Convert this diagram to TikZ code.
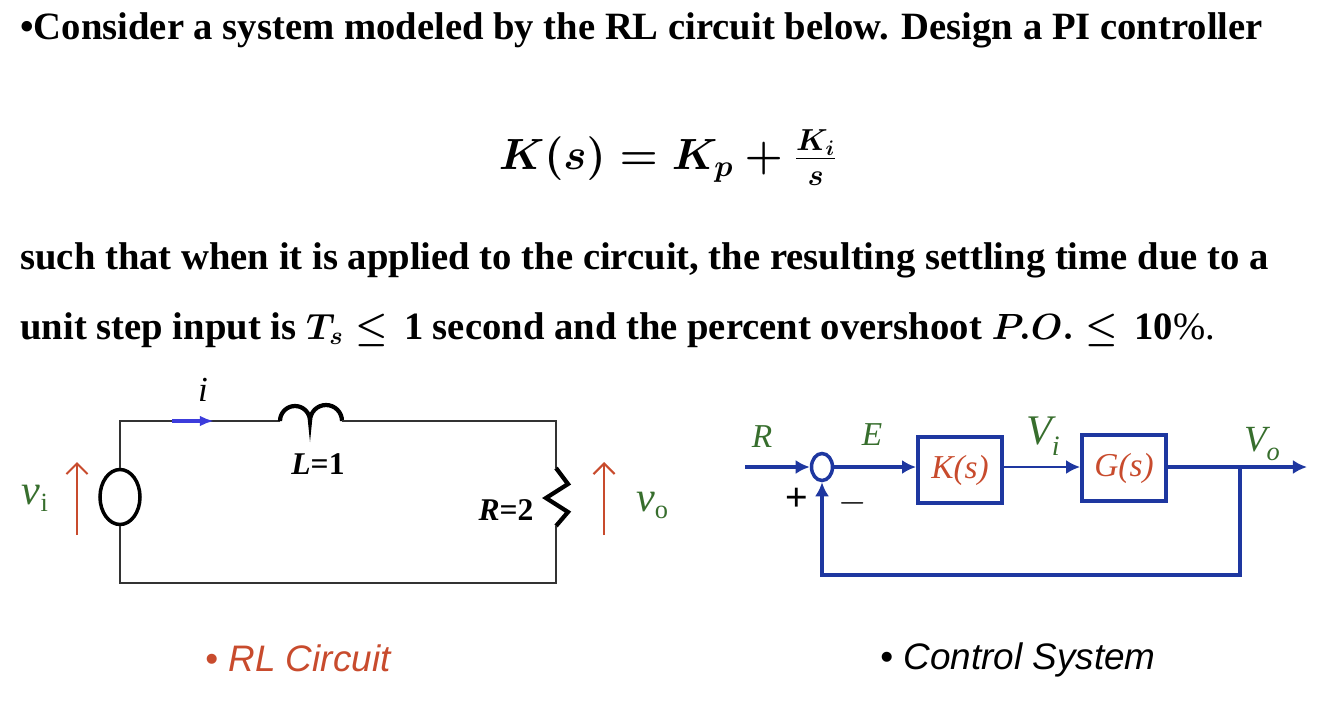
\documentclass[tikz,border=0pt]{standalone}
\usepackage{fontspec}
\usepackage{amsmath}
\setmainfont{Liberation Serif}
\newfontfamily\sansfont{Liberation Sans}
\usetikzlibrary{arrows.meta, positioning, shapes.geometric}
\definecolor{lblgreen}{RGB}{55,110,45}
\definecolor{lblorange}{RGB}{200,75,45}
\definecolor{dblue}{RGB}{30,55,160}
\definecolor{cblue}{RGB}{60,60,220}
\tikzset{
  txt/.style={anchor=west, inner sep=0pt, font=\fontsize{22}{26}\selectfont\bfseries},
  wire/.style={line width=1.4pt, black!80},
  blk/.style={draw=dblue, line width=2.2pt, minimum width=1.68cm, minimum height=1.32cm, inner sep=0pt, font=\fontsize{19}{22}\selectfont\itshape, text=lblorange},
  sig/.style={dblue, line width=2pt, -{Latex[length=8pt,width=8pt]}},
  glab/.style={text=lblgreen, font=\fontsize{19}{22}\selectfont\itshape, inner sep=0pt},
}
\begin{document}
\begin{tikzpicture}[x=0.02cm, y=-0.02cm]
    \useasboundingbox (0,0) rectangle (1337,717);
    % problem text
    \node[txt] (title) at (20,30) {•Consider a system modeled by the RL circuit below. Design a PI controller};
    \node[inner sep=0pt, font=\fontsize{25}{30}\selectfont] (pi) at (668,158) {$\boldsymbol{K(s)=K_p+\frac{K_i}{s}}$};
    \node[txt] (line1) at (20,260) {such that when it is applied to the circuit, the resulting settling time due to a};
    \node[txt] (line2) at (20,330) {unit step input is $\boldsymbol{T_s\le}\,\mathbf{1}$ second and the percent overshoot $\boldsymbol{P.O.\le}\,\mathbf{10}$\textmd{\%.}};

    % RL circuit
    \coordinate (tl) at (120,421);
    \coordinate (tr) at (556,421);
    \coordinate (bl) at (120,583);
    \coordinate (br) at (556,583);
    \node[draw, line width=2pt, ellipse, inner sep=0pt, minimum width=0.8cm, minimum height=1.1cm] (src) at (120,497) {};
    \coordinate (lin) at (280,421);
    \coordinate (lout) at (342,421);
    \coordinate (rtop) at (556,468);
    \coordinate (rbot) at (556,526);
    \draw[wire] (src.north) -- (tl) -- (lin);
    \draw[line width=2.4pt] (lin) arc[start angle=180, end angle=360, radius=15]
      arc[start angle=180, end angle=360, radius=16];
    \draw[wire] (lout) -- (tr) -- (rtop);
    \draw[line width=2.4pt] (rtop) -- (568,484) -- (546,498) -- (568,512) -- (rbot);
    \draw[wire] (rbot) -- (br) -- (bl) -- (src.south);
    \coordinate (ia) at (172,421);
    \coordinate (ib) at (214,421);
    \draw[cblue, line width=2pt, -{Latex[length=8pt]}] (ia) -- (ib);
    \node[font=\fontsize{20}{22}\selectfont\itshape] (ilab) at (203,390) {i};
    \node[font=\fontsize{18}{20}\selectfont\bfseries\itshape] (llab) at (318,464) {L\upshape=1};
    \node[font=\fontsize{18}{20}\selectfont\bfseries\itshape] (rlab) at (506,510) {R\upshape=2};
    \coordinate (via) at (77,535);
    \coordinate (vib) at (77,462);
    \coordinate (voa) at (604,535);
    \coordinate (vob) at (604,462);
    \draw[lblorange, line width=1.2pt, -{Straight Barb[length=6pt]}] (via) -- (vib);
    \draw[lblorange, line width=1.2pt, -{Straight Barb[length=6pt]}] (voa) -- (vob);
    \node[text=lblgreen, font=\fontsize{24}{26}\selectfont] (vilab) at (35,498) {\textit{v}\raisebox{-4pt}{\fontsize{15}{15}\selectfont i}};
    \node[text=lblgreen, font=\fontsize{24}{26}\selectfont] (volab) at (652,505) {\textit{v}\raisebox{-4pt}{\fontsize{15}{15}\selectfont o}};
    \node[text=lblorange, font=\fontsize{21}{24}\selectfont\sansfont\itshape] (rlcap) at (298,658) {\upshape•\ \itshape RL Circuit};

    % control loop
    \coordinate (rin) at (745,467);
    \node[draw=dblue, line width=2pt, ellipse, minimum width=0.42cm, minimum height=0.54cm, inner sep=0pt] (sum) at (822,467) {};
    \node[blk] (K) at (960,470) {K(s)};
    \node[blk] (G) at (1124,468) {G(s)};
    \coordinate (out) at (1307,467);
    \coordinate (tap) at (1240,467);
    \coordinate (fb1) at (1240,575);
    \coordinate (fb2) at (822,575);
    \draw[sig] (rin) -- (sum.west);
    \draw[sig] (sum.east) -- (sum.east -| K.west);
    \draw[sig, line width=1.4pt] (K.east |- 0,467) -- (G.west |- 0,467);
    \draw[sig] (G.east |- 0,467) -- (out);
    \draw[sig] (tap) -- (fb1) -- (fb2) -- (sum.south);
    \node[glab] (rlbl) at (762,437) {R};
    \node[glab] (elbl) at (872,435) {E};
    \node[glab, font=\fontsize{24}{26}\selectfont\itshape] (vilbl) at (1043,436) {V\raisebox{-6pt}{\fontsize{16}{16}\selectfont\itshape i}};
    \node[glab, font=\fontsize{21}{24}\selectfont\itshape] (volbl) at (1262,444) {V\raisebox{-5pt}{\fontsize{15}{15}\selectfont\itshape o}};
    \node[font=\fontsize{22}{24}\selectfont\sansfont] (plus) at (797,499) {+};
    \node[font=\fontsize{22}{24}\selectfont\sansfont] (minus) at (853,503) {$-$};
    \node[font=\fontsize{21}{24}\selectfont\sansfont\itshape] (cscap) at (1018,660) {\upshape•\ \itshape Control System};
\end{tikzpicture}
\end{document}
